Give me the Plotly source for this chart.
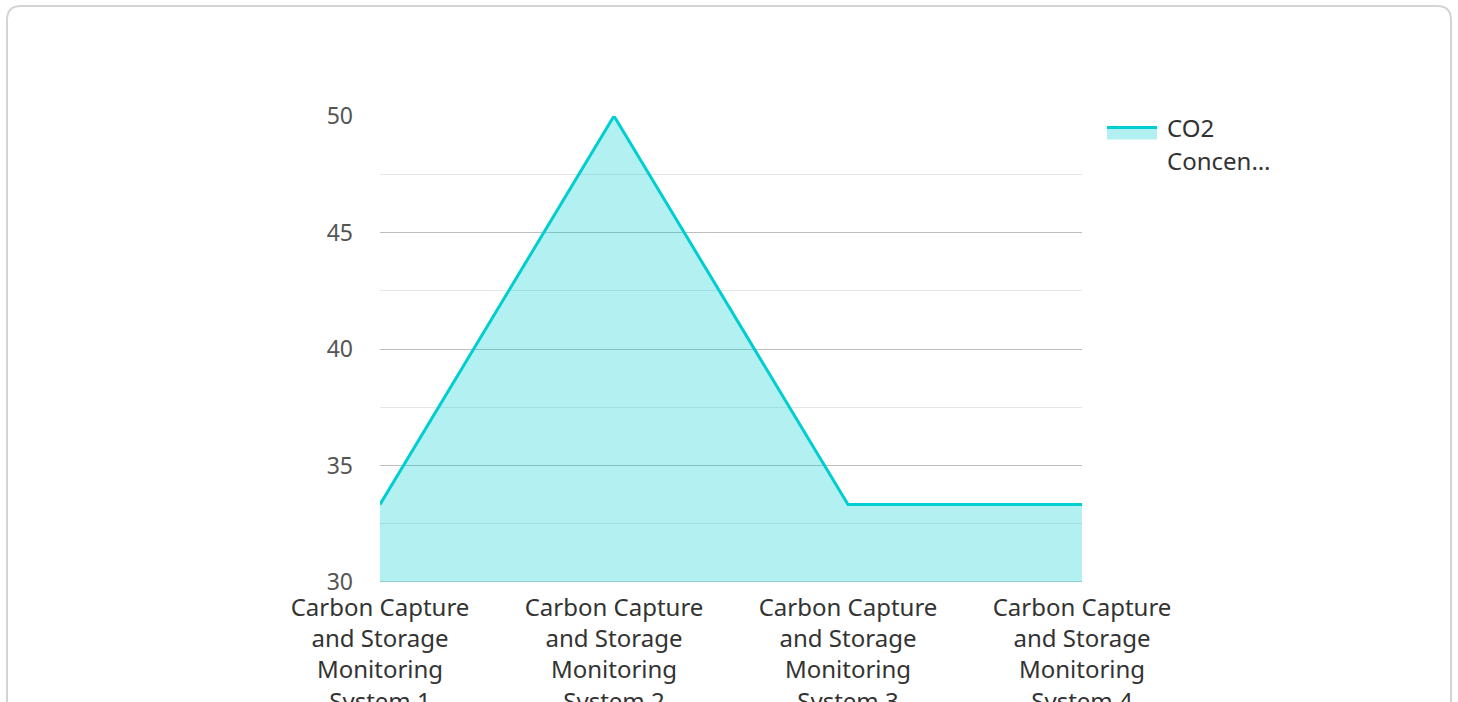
import plotly.graph_objects as go

# Monitoring systems and their CO2 concentration readings
systems = [
    "Carbon Capture and Storage Monitoring System 1",
    "Carbon Capture and Storage Monitoring System 2",
    "Carbon Capture and Storage Monitoring System 3",
    "Carbon Capture and Storage Monitoring System 4",
]
co2_concentration = [33.33, 50.0, 33.33, 33.33]
legend_lines = ["CO2", "Concen…"]

y_major_ticks = [30, 35, 40, 45, 50]
y_minor_ticks = [32.5, 37.5, 42.5, 47.5]

LINE_COLOR = "#00CED1"
FILL_COLOR = "rgba(0,206,209,0.3)"
GRID_MAJOR = "#bdbdbd"
GRID_MINOR = "#e6e6e6"


def wrap_label(text):
    # break the long category names over several lines
    words = text.split(" ")
    lines = [" ".join(words[0:2]), " ".join(words[2:4]), words[4], " ".join(words[5:])]
    return "<br>".join(lines)


W, H = 1458, 702
ML, MR, MT, MB = 380, 376, 116, 120
PW, PH = W - ML - MR, H - MT - MB

fig = go.Figure()
fig.add_trace(
    go.Scatter(
        x=list(range(len(systems))),
        y=co2_concentration,
        name=" ".join(legend_lines),
        mode="lines",
        line=dict(color=LINE_COLOR, width=3),
        fill="tozeroy",
        fillcolor=FILL_COLOR,
        showlegend=False,
    )
)


def px_to_paper_x(px):
    return (px - ML) / PW


def px_to_paper_y(py):
    return (H - MB - py) / PH


# rounded card outline around the chart
x0, x1, y0, y1, r = 7, 1451, 6, 760, 14
path = (
    f"M {px_to_paper_x(x0 + r)},{px_to_paper_y(y0)} "
    f"L {px_to_paper_x(x1 - r)},{px_to_paper_y(y0)} "
    f"Q {px_to_paper_x(x1)},{px_to_paper_y(y0)} {px_to_paper_x(x1)},{px_to_paper_y(y0 + r)} "
    f"L {px_to_paper_x(x1)},{px_to_paper_y(y1 - r)} "
    f"Q {px_to_paper_x(x1)},{px_to_paper_y(y1)} {px_to_paper_x(x1 - r)},{px_to_paper_y(y1)} "
    f"L {px_to_paper_x(x0 + r)},{px_to_paper_y(y1)} "
    f"Q {px_to_paper_x(x0)},{px_to_paper_y(y1)} {px_to_paper_x(x0)},{px_to_paper_y(y1 - r)} "
    f"L {px_to_paper_x(x0)},{px_to_paper_y(y0 + r)} "
    f"Q {px_to_paper_x(x0)},{px_to_paper_y(y0)} {px_to_paper_x(x0 + r)},{px_to_paper_y(y0)} Z"
)
fig.add_shape(
    type="path",
    path=path,
    xref="paper",
    yref="paper",
    line=dict(color="#d4d4d4", width=2),
    fillcolor="rgba(0,0,0,0)",
    layer="below",
)

# baseline grid line at the bottom of the value axis
fig.add_shape(
    type="line",
    xref="paper",
    yref="y",
    x0=0,
    x1=1,
    y0=y_major_ticks[0],
    y1=y_major_ticks[0],
    line=dict(color=GRID_MAJOR, width=1.5),
    layer="below",
)

# custom legend: line over a filled swatch, label wrapped on two lines
lx0, lx1, ly_line, ly_fill = 1107, 1157, 127.5, 139.5
fig.add_shape(
    type="rect",
    xref="paper",
    yref="paper",
    x0=px_to_paper_x(lx0),
    x1=px_to_paper_x(lx1),
    y0=px_to_paper_y(ly_fill),
    y1=px_to_paper_y(ly_line),
    line=dict(width=0),
    fillcolor=FILL_COLOR,
)
fig.add_shape(
    type="line",
    xref="paper",
    yref="paper",
    x0=px_to_paper_x(lx0),
    x1=px_to_paper_x(lx1),
    y0=px_to_paper_y(ly_line),
    y1=px_to_paper_y(ly_line),
    line=dict(color=LINE_COLOR, width=3),
)
for i, txt in enumerate(legend_lines):
    fig.add_annotation(
        x=px_to_paper_x(1165),
        y=px_to_paper_y(127 + 33 * i),
        xref="paper",
        yref="paper",
        text=txt,
        showarrow=False,
        xanchor="left",
        yanchor="middle",
        font=dict(size=24, color="#333333"),
    )

fig.update_layout(
    width=W,
    height=H,
    margin=dict(l=ML, r=MR, t=MT, b=MB, pad=0),
    paper_bgcolor="white",
    plot_bgcolor="white",
    font=dict(family="Noto Sans, Open Sans, sans-serif", size=24, color="#333333"),
    showlegend=False,
    xaxis=dict(
        tickmode="array",
        tickvals=list(range(len(systems))),
        ticktext=[wrap_label(s) for s in systems],
        range=[0, len(systems) - 1],
        showgrid=False,
        zeroline=False,
        showline=False,
        ticks="",
        automargin=False,
        ticklabelstandoff=9,
        tickfont=dict(size=24, color="#333333"),
    ),
    yaxis=dict(
        range=[30, 50],
        tickmode="array",
        tickvals=y_major_ticks,
        showgrid=True,
        gridcolor=GRID_MAJOR,
        gridwidth=1.2,
        zeroline=False,
        showline=False,
        ticks="",
        automargin=False,
        ticklabelstandoff=26,
        tickfont=dict(size=23, color="#555555"),
        minor=dict(
            tickmode="array",
            tickvals=y_minor_ticks,
            showgrid=True,
            gridcolor=GRID_MINOR,
            gridwidth=1,
        ),
    ),
)

fig.write_html("out.html")
